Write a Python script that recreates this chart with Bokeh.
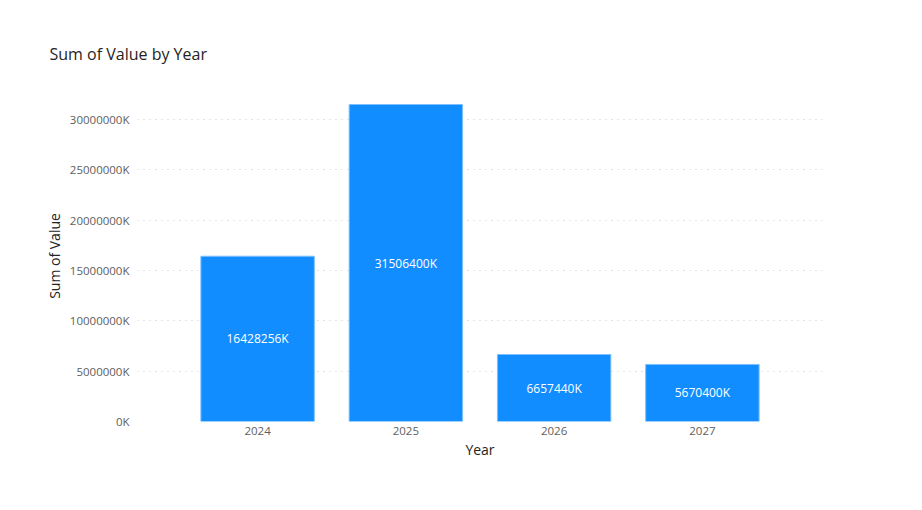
from bokeh.plotting import figure
from bokeh.models import ColumnDataSource, FixedTicker, PrintfTickFormatter, LabelSet, FactorRange
from bokeh.core.properties import value
from bokeh.embed import file_html
from bokeh.resources import INLINE

years = ["2024", "2025", "2026", "2027"]
values = [16428256, 31506400, 6657440, 5670400]
labels = ["16428256K", "31506400K", "6657440K", "5670400K"]
y_ticks = [0, 5000000, 10000000, 15000000, 20000000, 25000000, 30000000]

FONT = "Open Sans"

src = ColumnDataSource(dict(year=years, value=values, mid=[v / 2 for v in values], label=labels))

p = figure(
    x_range=FactorRange(*years, range_padding=0.155),
    y_range=(0, 32900000),
    width=900, height=494,
    output_backend="svg", toolbar_location=None,
    min_border_left=137, min_border_right=78, min_border_bottom=73, min_border_top=90,
    title="Sum of Value by Year",
)
p.outline_line_color = None
p.background_fill_color = "white"

p.title.text_font = FONT
p.title.text_font_size = "16px"
p.title.text_font_style = "normal"
p.title.text_color = "#252423"
p.title.align = "left"
p.title.offset = -88
p.title.standoff = 51

p.vbar(x="year", top="value", width=0.765, source=src, fill_color="#118DFF", line_color="#7cc0ff", line_width=1)

lbl = LabelSet(x="year", y="mid", text="label", source=src, text_align="center", text_baseline="middle",
               text_color="white", text_font_size="12px", text_font=value(FONT))
p.add_layout(lbl)

p.yaxis.ticker = FixedTicker(ticks=y_ticks)
p.yaxis.formatter = PrintfTickFormatter(format="%dK")
p.xgrid.grid_line_color = None
p.ygrid.grid_line_color = "#c8c6c4"
p.ygrid.grid_line_dash = "1 5"
p.ygrid.grid_line_width = 1

for ax in (p.xaxis, p.yaxis):
    ax.axis_line_color = None
    ax.major_tick_line_color = None
    ax.minor_tick_line_color = None
    ax.major_tick_out = 0
    ax.major_tick_in = 0
    ax.minor_tick_out = 0
    ax.major_label_text_font = FONT
    ax.major_label_text_font_size = "11.5px"
    ax.major_label_text_color = "#605E5C"
    ax.axis_label_text_font = FONT
    ax.axis_label_text_font_size = "14px"
    ax.axis_label_text_font_style = "normal"
    ax.axis_label_text_color = "#252423"

p.xaxis.axis_label = "Year"
p.yaxis.axis_label = "Sum of Value"
p.xaxis.major_label_standoff = 5
p.yaxis.major_label_standoff = 8
p.xaxis.axis_label_standoff = 2
p.yaxis.axis_label_standoff = 3
p.x_range.group_padding = 0

open("out.html", "w").write(file_html(p, INLINE))
